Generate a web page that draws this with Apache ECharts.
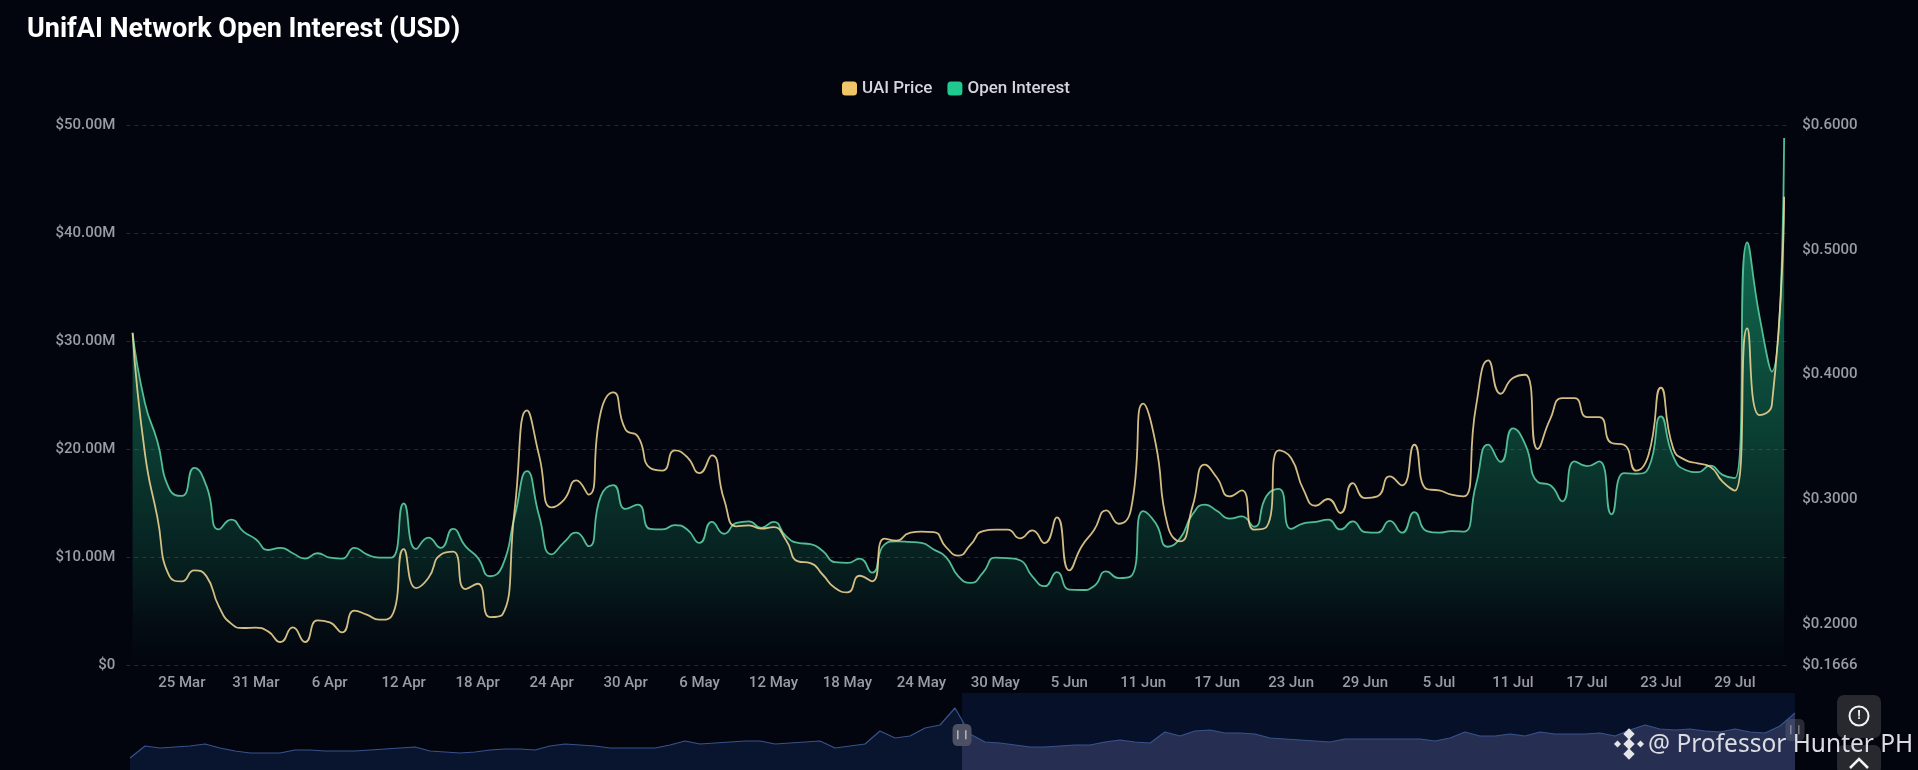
<!DOCTYPE html>
<html>
<head>
<meta charset="utf-8">
<style>html,body{margin:0;padding:0;background:#03050e}#c{width:1918px;height:770px}</style>
<script src="https://cdn.jsdelivr.net/npm/echarts@6/dist/echarts.min.js"></script>
</head>
<body>
<div id="c"></div>
<script>
const startDate = Date.UTC(2025, 2, 21);
const monthNames = ['Jan','Feb','Mar','Apr','May','Jun','Jul','Aug','Sep','Oct','Nov','Dec'];
const openInterestM = [
30.8,24.3,20.8,16.3,15.7,18.3,16.6,12.6,13.5,12.4,11.7,10.7,10.9,10.4,9.9,10.4,10.0,9.9,10.9,10.3,
10.0,10.0,15.0,10.8,11.85,10.9,12.65,11.05,10.0,8.27,9.2,13.8,18.0,13.8,10.3,11.4,12.3,11.05,15.7,16.7,
14.5,14.9,12.65,12.6,13.0,12.6,11.35,13.3,12.2,13.2,13.35,12.75,13.3,12.0,11.35,11.25,10.6,9.57,9.5,9.9,
8.6,11.2,11.5,11.45,11.35,10.75,10.05,8.27,7.65,8.6,10.0,9.95,9.75,8.27,7.35,8.65,7.04,7.0,7.35,8.73,
8.1,8.27,14.3,13.2,11.0,11.8,14.0,14.9,14.3,13.6,13.8,12.85,15.7,16.35,12.65,13.15,13.3,13.5,12.6,13.35,
12.35,12.3,13.4,12.3,14.2,12.45,12.3,12.45,12.4,16.75,20.45,18.85,21.95,20.45,17.0,16.7,15.2,18.9,18.45,18.9,
14.0,17.8,17.75,18.3,23.05,19.35,18.1,17.9,18.5,17.65,17.35,39.15,32.3,27.2,48.8
];
const uaiPrice = [
.4332,.337,.2863,.2382,.2342,.2430,.2382,.2142,.2003,.1968,.1971,.1941,.1856,.1973,.1856,.2029,.2013,.1933,.2107,.2075,
.2035,.2061,.2601,.2288,.2369,.2556,.258,.228,.2323,.2056,.2075,.2916,.3712,.3344,.2935,.2996,.3151,.3037,.3704,.3857,
.3558,.3504,.325,.3229,.3392,.3338,.321,.3352,.2996,.2783,.2791,.2764,.2777,.2676,.2502,.2489,.2395,.2288,.2254,.2387,
.2342,.2684,.2668,.2729,.274,.2737,.2617,.2548,.2636,.2745,.2756,.2756,.2687,.2751,.2649,.2855,.243,.2622,.2751,.2911,
.2804,.2916,.3766,.3451,.2783,.2663,.2943,.3277,.317,.3023,.3071,.2756,.2777,.3392,.333,.3077,.2948,.3002,.289,.313,
.301,.3023,.3183,.3111,.3437,.3082,.3071,.3037,.3023,.3745,.4113,.3846,.3972,.3998,.3403,.3638,.3811,.3811,.3659,.3659,
.3451,.3437,.3229,.3357,.3894,.3408,.3314,.3288,.3261,.3141,.3069,.437,.3675,.3755,.5425
];
const miniOverview = [
12,24,22,23,24,26,22,19,17,17,17,20,20,19,19,19,20,21,22,23,
19,18,17,18,20,21,21,20,24,26,25,24,22,22,22,22,25,29,26,27,
28,29,29,26,27,28,29,22,24,26,39,32,34,42,45,62,36,28,27,25,
23,23,24,25,25,28,30,28,27,38,34,39,40,37,37,36,32,31,30,29,
28,31,31,31,31,31,31,29,32,38,34,34,36,34,38,36,36,36,37,34,
40,45,41,40,41,39,38,41,38,37,44,57
];
const priceTicks = [0.1666,0.2,0.3,0.4,0.5,0.6];
const legendNames = ['UAI Price','Open Interest'];
const titleText = 'UnifAI Network Open Interest (USD)';
const watermark = '@ Professor Hunter PH';
const windowStart = 55.47;

const categories = openInterestM.map((_, i) => {
  const d = new Date(startDate + i * 86400000);
  return d.getUTCDate() + ' ' + monthNames[d.getUTCMonth()];
});
const font = 'Roboto, sans-serif';
const axisGray = '#9a9ca4';
const chart = echarts.init(document.getElementById('c'), null, {renderer:'canvas'});
const frac = windowStart / (miniOverview.length - 1);
const areaDark = '#09142f', areaLight = '#262f52';

function diamond(cx, cy, s) {
  return {type:'rect', x:cx, y:cy, rotation:Math.PI/4,
    shape:{x:-s/2,y:-s/2,width:s,height:s}, style:{fill:'#e4e5e8'}, z:50};
}
chart.setOption({
  backgroundColor:'#03050e',
  animation:false,
  title:{text:titleText,left:22,top:12,textStyle:{color:'#ffffff',fontFamily:font,fontSize:27,fontWeight:700}},
  legend:{data:legendNames,left:837,top:75,icon:'roundRect',itemWidth:15,itemHeight:14,itemGap:15,
    textStyle:{color:'#d4d6dc',fontFamily:font,fontSize:17,fontWeight:500}},
  grid:[
    {left:126.4,right:127.7,top:125,bottom:104.3},
    {left:130,right:123,top:693,bottom:0}
  ],
  xAxis:[
    {type:'category',gridIndex:0,data:categories,boundaryGap:true,axisLine:{show:false},axisTick:{show:false},
      axisLabel:{interval:(i)=>(i-4)%6===0,color:axisGray,fontFamily:font,fontSize:15,fontWeight:500,margin:10,hideOverlap:false}},
    {type:'value',gridIndex:1,min:0,max:miniOverview.length-1,show:false}
  ],
  yAxis:[
    {type:'value',gridIndex:0,min:0,max:50000000,interval:10000000,axisLine:{show:false},axisTick:{show:false},
      axisLabel:{color:axisGray,fontFamily:font,fontSize:15,fontWeight:500,margin:11,
        formatter:v=>v===0?'$0':'$'+(v/1e6).toFixed(2)+'M'},
      splitLine:{show:true,lineStyle:{color:'rgba(255,255,255,0.14)',type:[4,4],width:1}}},
    {type:'value',gridIndex:0,position:'right',min:0.1666,max:0.6,axisLine:{show:false},axisTick:{show:false},
      splitLine:{show:false},
      axisLabel:{customValues:priceTicks,color:axisGray,fontFamily:font,fontSize:15,fontWeight:500,margin:12,
        formatter:v=>'$'+v.toFixed(4)}},
    {type:'value',gridIndex:1,min:0,max:77,show:false}
  ],
  series:[
    {name:'Open Interest',type:'line',xAxisIndex:0,yAxisIndex:0,data:openInterestM.map(v=>v*1e6),
      smooth:0.55,showSymbol:false,
      itemStyle:{color:'#1fc98f'},lineStyle:{color:'#52bd94',width:1.8},
      areaStyle:{color:new echarts.graphic.LinearGradient(0,0,0,1,[
        {offset:0,color:'rgba(29,201,140,0.9)'},{offset:0.6,color:'rgba(29,201,140,0.38)'},
        {offset:0.8,color:'rgba(29,201,140,0.2)'},{offset:0.92,color:'rgba(29,201,140,0.06)'},{offset:1,color:'rgba(29,201,140,0)'}])}},
    {name:'UAI Price',type:'line',xAxisIndex:0,yAxisIndex:1,data:uaiPrice,
      smooth:0.55,showSymbol:false,
      itemStyle:{color:'#f0c468'},lineStyle:{color:'#efd694',width:1.8,opacity:0.88}},
    {name:'overview',type:'line',xAxisIndex:1,yAxisIndex:2,data:miniOverview.map((h,k)=>[k,h]),
      showSymbol:false,silent:true,
      lineStyle:{color:'#38528c',width:1.2},
      areaStyle:{opacity:1,color:new echarts.graphic.LinearGradient(0,0,1,0,[
        {offset:0,color:areaDark},{offset:frac,color:areaDark},{offset:frac,color:areaLight},{offset:1,color:areaLight}])},
      markArea:{silent:true,z:-1,itemStyle:{color:'#071029'},data:[[{xAxis:windowStart,yAxis:0},{xAxis:miniOverview.length-1,yAxis:77}]]},
      markPoint:{silent:true,symbol:'roundRect',symbolSize:[19,22],
        label:{show:true,formatter:'❙❙',color:'#b4b6c0',fontSize:9},
        data:[
          {coord:[windowStart,35],itemStyle:{color:'#4d5062'}},
          {coord:[miniOverview.length-1,40],itemStyle:{color:'rgba(110,112,130,0.35)'},label:{color:'rgba(200,200,210,0.5)'}}
        ]}}
  ],
  graphic:[
    {type:'rect',shape:{x:1837,y:695,width:44,height:43,r:7},style:{fill:'#27292f'},z:40},
    {type:'rect',shape:{x:1837,y:745,width:44,height:30,r:7},style:{fill:'#27292f'},z:40},
    {type:'circle',shape:{cx:1859,cy:716,r:9.5},style:{fill:'none',stroke:'#f2f2f2',lineWidth:2},z:41},
    {type:'text',x:1859,y:716,style:{text:'!',fill:'#f2f2f2',font:'700 13px Roboto',textAlign:'center',textVerticalAlign:'middle'},z:42},
    {type:'polyline',shape:{points:[[1850,768],[1859,759],[1868,768]]},style:{fill:'none',stroke:'#f2f2f2',lineWidth:2.5},z:41},
    {type:'text',x:1648,y:745,style:{text:watermark,fill:'#dcdde2',font:'400 24.5px "Noto Sans"',textAlign:'left',textVerticalAlign:'middle'},z:50},
    diamond(1629,744,8),diamond(1629,734,8),diamond(1629,754,8),diamond(1617.5,744,5),diamond(1640.5,744,5)
  ]
});
</script>
</body>
</html>
